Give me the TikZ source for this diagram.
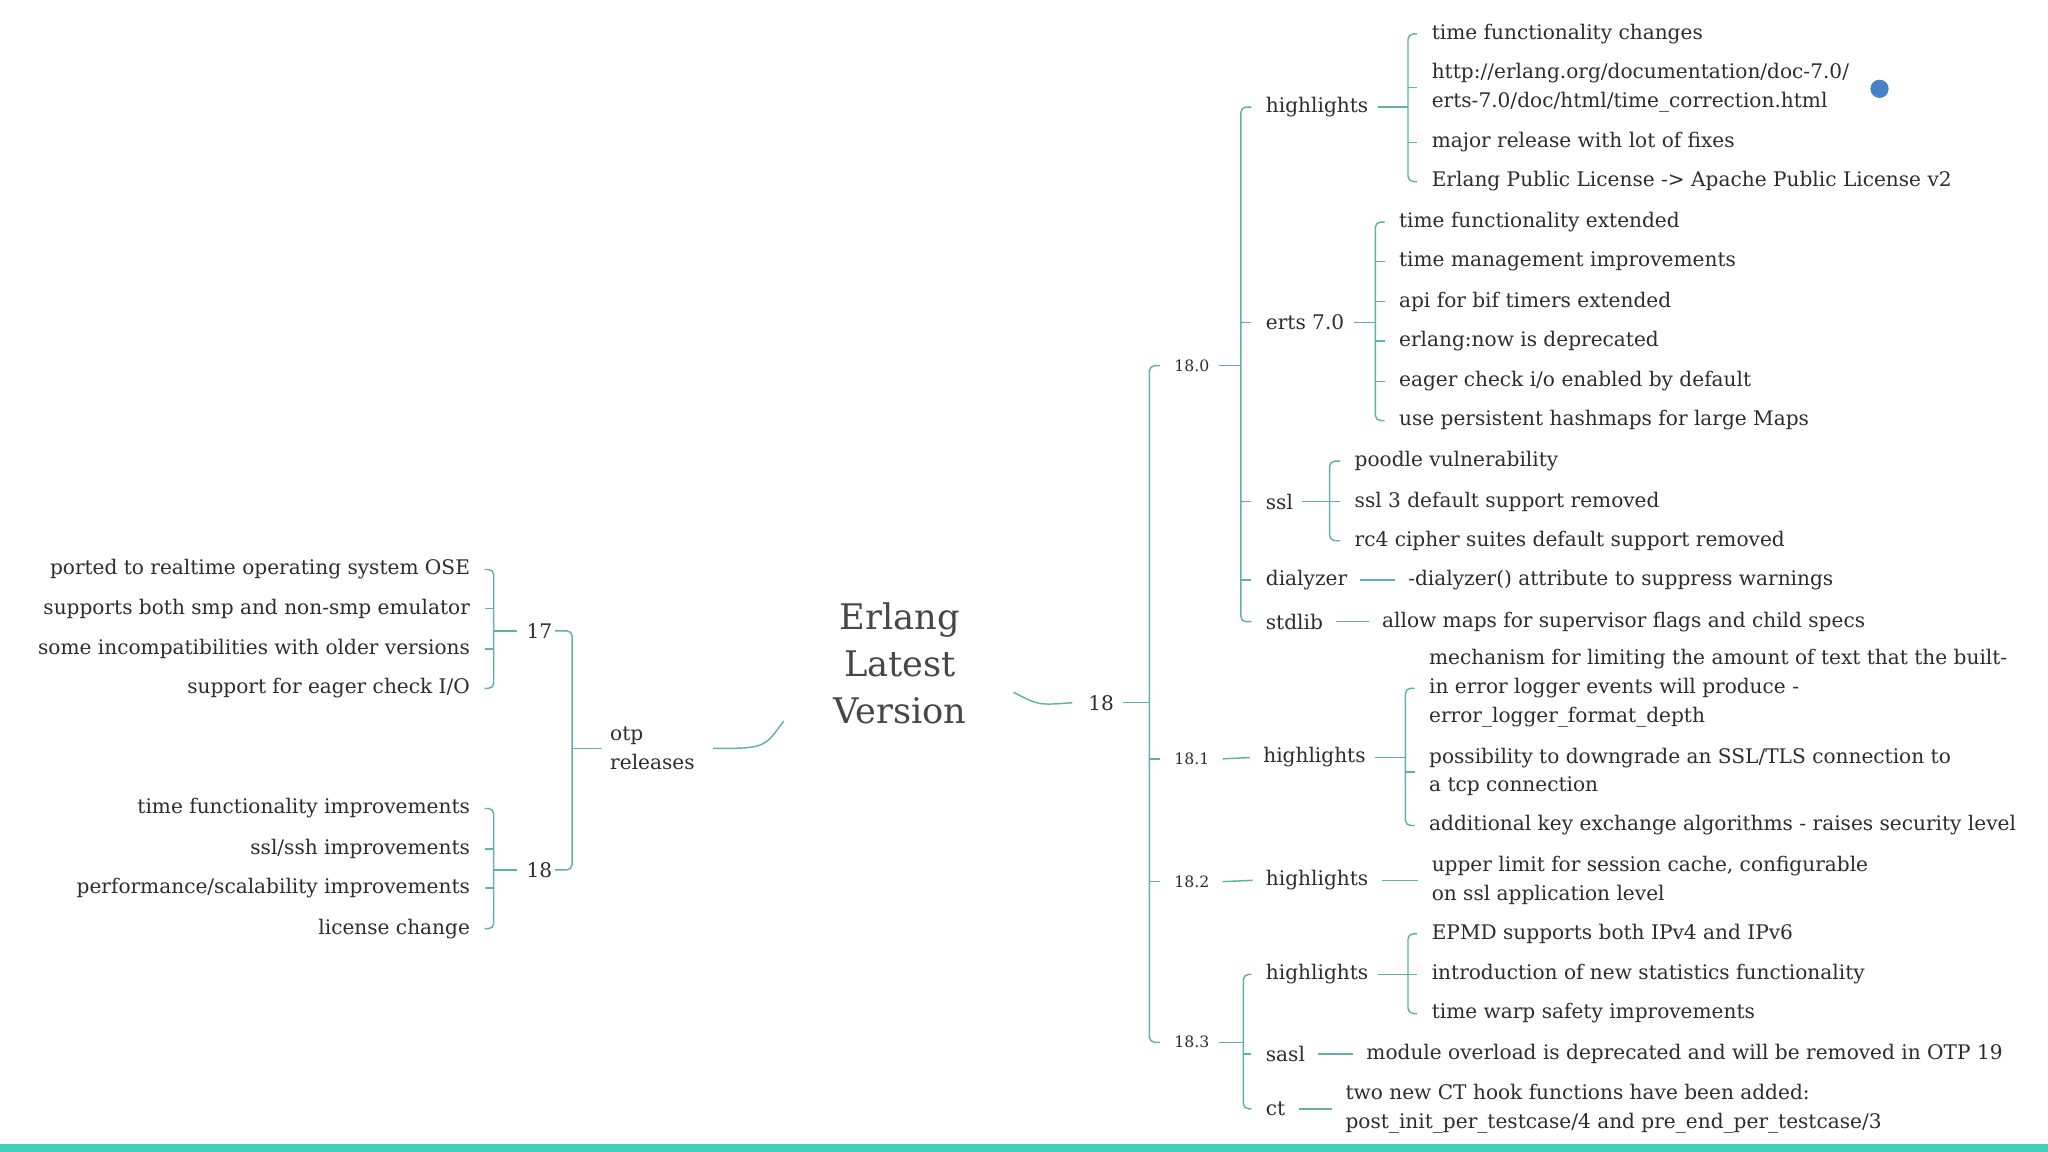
\documentclass[tikz,border=0pt]{standalone}
\usepackage{fontspec}
\setmainfont{DejaVu Serif}
\definecolor{br}{RGB}{95,178,170}
\definecolor{txt}{RGB}{45,45,45}
\definecolor{band}{RGB}{62,208,186}
\definecolor{dot}{RGB}{70,130,200}
\newcommand\rgrp[3]{\draw[brl,rounded corners=4] ([xshift=-11]#2.west) -| (#1 |- #3.west) -- ([xshift=-11]#3.west);}
\newcommand\rmid[2]{\draw[brl] (#1 |- #2.west) -- ([xshift=-11]#2.west);}
\newcommand\rpar[2]{\draw[brl] ([xshift=7]#2.east) -- (#1 |- #2.east);}
\newcommand\lgrp[3]{\draw[brl,rounded corners=4] ([xshift=11]#2.east) -| (#1 |- #3.east) -- ([xshift=11]#3.east);}
\newcommand\lmid[2]{\draw[brl] (#1 |- #2.east) -- ([xshift=11]#2.east);}
\newcommand\lpar[2]{\draw[brl] ([xshift=-7]#2.west) -- (#1 |- #2.west);}
\newcommand\link[2]{\draw[brl] ([xshift=10]#1.east) -- ([xshift=-10]#2.west);}
\begin{document}
\begin{tikzpicture}[x=1pt,y=-1pt,
 brl/.style={draw=br,line width=1.1pt},
 leaf/.style={anchor=west,inner sep=0pt,align=left,text=txt,font=\fontsize{15.4}{22}\selectfont},
 leafL/.style={anchor=east,inner sep=0pt,align=right,text=txt,font=\fontsize{15.4}{22}\selectfont},
 ver/.style={anchor=west,inner sep=0pt,text=txt,font=\fontsize{12}{13}\selectfont}]
\useasboundingbox (0,0) rectangle (1568,882);
\fill[white] (0,0) rectangle (1568,882);
\fill[band] (0,876) rectangle (1568,882);
% center
\node[text=black!72,align=center,font=\fontsize{27}{36}\selectfont] (title) at (689,508) {Erlang\\Latest\\Version};
\node[leaf] (n18) at (833,538) {18};
\node[leaf] (otp) at (467,573) {otp\\releases};
\coordinate (tr) at (776,530);
\coordinate (tl) at (600,552);
\draw[brl] (tr) .. controls (795,540) .. ([xshift=-12]n18.west);
\draw[brl] (tl) .. controls (585,573) .. ([xshift=14]otp.east);
% left
\coordinate (bo) at (438,0);
\node[leaf] (l17) at (403,483) {17};
\node[leaf] (l18) at (403,666) {18};
\draw[brl,rounded corners=4] ([xshift=2]l17.east) -| (bo |- l18.east) -- ([xshift=2]l18.east);
\draw[brl] ([xshift=-6]otp.west) -- (bo |- otp.west);
\coordinate (b17) at (378,0);
\node[leafL] (a1) at (360,436) {ported to realtime operating system OSE};
\node[leafL] (a2) at (360,466) {supports both smp and non-smp emulator};
\node[leafL] (a3) at (360,497) {some incompatibilities with older versions};
\node[leafL] (a4) at (360,527) {support for eager check I/O};
\lgrp{b17}{a1}{a4}\lmid{b17}{a2}\lmid{b17}{a3}\lpar{b17}{l17}
\node[leafL] (b1) at (360,619) {time functionality improvements};
\node[leafL] (b2) at (360,650) {ssl/ssh improvements};
\node[leafL] (b3) at (360,680) {performance/scalability improvements};
\node[leafL] (b4) at (360,711) {license change};
\lgrp{b17}{b1}{b4}\lmid{b17}{b2}\lmid{b17}{b3}\lpar{b17}{l18}
% right level 1
\coordinate (r1) at (880,0);
\node[ver] (v0) at (899,280) {18.0};
\node[ver] (v1) at (899,581) {18.1};
\node[ver] (v2) at (899,675) {18.2};
\node[ver] (v3) at (899,798) {18.3};
\rgrp{r1}{v0}{v3}\rmid{r1}{v1}\rmid{r1}{v2}\rpar{r1}{n18}
% 18.0
\coordinate (r0) at (950,0);
\node[leaf] (h0) at (969,82) {highlights};
\node[leaf] (e7) at (969,247) {erts 7.0};
\node[leaf] (ss) at (969,384) {ssl};
\node[leaf] (dz) at (969,444) {dialyzer};
\node[leaf] (sl) at (969,476) {stdlib};
\rgrp{r0}{h0}{sl}\rmid{r0}{e7}\rmid{r0}{ss}\rmid{r0}{dz}\rpar{r0}{v0}
\coordinate (rh0) at (1078,0);
\node[leaf] (c1) at (1096,26) {time functionality changes};
\node[leaf] (c2) at (1096,67) {http://erlang.org/documentation/doc-7.0/\\erts-7.0/doc/html/time\_correction.html};
\node[leaf] (c3) at (1096,109) {major release with lot of fixes};
\node[leaf] (c4) at (1096,139) {Erlang Public License -> Apache Public License v2};
\rgrp{rh0}{c1}{c4}\rmid{rh0}{c2}\rmid{rh0}{c3}\rpar{rh0}{h0}
\fill[dot] (1439,68) circle (7);
\coordinate (re) at (1053,0);
\node[leaf] (d1) at (1071,170) {time functionality extended};
\node[leaf] (d2) at (1071,200) {time management improvements};
\node[leaf] (d3) at (1071,231) {api for bif timers extended};
\node[leaf] (d4) at (1071,261) {erlang:now is deprecated};
\node[leaf] (d5) at (1071,292) {eager check i/o enabled by default};
\node[leaf] (d6) at (1071,322) {use persistent hashmaps for large Maps};
\rgrp{re}{d1}{d6}\rmid{re}{d2}\rmid{re}{d3}\rmid{re}{d4}\rmid{re}{d5}\rpar{re}{e7}
\coordinate (rs) at (1018,0);
\node[leaf] (s1) at (1037,353) {poodle vulnerability};
\node[leaf] (s2) at (1037,384) {ssl 3 default support removed};
\node[leaf] (s3) at (1037,414) {rc4 cipher suites default support removed};
\rgrp{rs}{s1}{s3}\rmid{rs}{s2}\rpar{rs}{ss}
\node[leaf] (dzl) at (1078,444) {-dialyzer() attribute to suppress warnings};
\link{dz}{dzl}
\node[leaf] (sll) at (1058,476) {allow maps for supervisor flags and child specs};
\link{sl}{sll}
% 18.1
\node[leaf] (h1) at (967,580) {highlights};
\link{v1}{h1}
\coordinate (rh1) at (1076,0);
\node[leaf] (f1) at (1094,527) {mechanism for limiting the amount of text that the built-\\in error logger events will produce -\\error\_logger\_format\_depth};
\node[leaf] (f2) at (1094,591) {possibility to downgrade an SSL/TLS connection to\\a tcp connection};
\node[leaf] (f3) at (1094,632) {additional key exchange algorithms - raises security level};
\rgrp{rh1}{f1}{f3}\rmid{rh1}{f2}\rpar{rh1}{h1}
% 18.2
\node[leaf] (h2) at (969,674) {highlights};
\link{v2}{h2}
\node[leaf] (g1) at (1096,674) {upper limit for session cache, configurable\\on ssl application level};
\link{h2}{g1}
% 18.3
\coordinate (r3) at (952,0);
\node[leaf] (h3) at (969,746) {highlights};
\node[leaf] (sa) at (969,807) {sasl};
\node[leaf] (ct) at (969,849) {ct};
\rgrp{r3}{h3}{ct}\rmid{r3}{sa}\rpar{r3}{v3}
\coordinate (rh3) at (1078,0);
\node[leaf] (k1) at (1096,715) {EPMD supports both IPv4 and IPv6};
\node[leaf] (k2) at (1096,746) {introduction of new statistics functionality};
\node[leaf] (k3) at (1096,776) {time warp safety improvements};
\rgrp{rh3}{k1}{k3}\rmid{rh3}{k2}\rpar{rh3}{h3}
\node[leaf] (sal) at (1046,807) {module overload is deprecated and will be removed in OTP 19};
\link{sa}{sal}
\node[leaf] (ctl) at (1030,849) {two new CT hook functions have been added:\\post\_init\_per\_testcase/4 and pre\_end\_per\_testcase/3};
\link{ct}{ctl}
\end{tikzpicture}
\end{document}
